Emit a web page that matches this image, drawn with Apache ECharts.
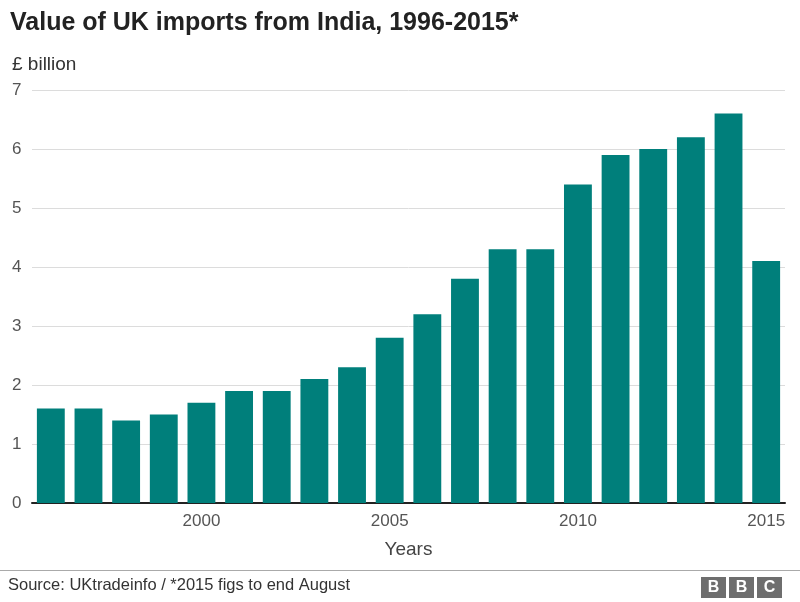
<!DOCTYPE html>
<html>
<head>
<meta charset="utf-8">
<script src="https://cdn.jsdelivr.net/npm/echarts@6/dist/echarts.min.js"></script>
<style>
  html, body { margin: 0; padding: 0; background: #fff; }
  #chart { width: 800px; height: 602px; }
</style>
</head>
<body>
<div id="chart"></div>
<script>
var years = ['1996', '1997', '1998', '1999', '2000', '2001', '2002', '2003', '2004', '2005',
             '2006', '2007', '2008', '2009', '2010', '2011', '2012', '2013', '2014', '2015'];
var imports = [1.6, 1.6, 1.4, 1.5, 1.7, 1.9, 1.9, 2.1, 2.3, 2.8,
               3.2, 3.8, 4.3, 4.3, 5.4, 5.9, 6.0, 6.2, 6.6, 4.1];
var shownYears = ['2000', '2005', '2010', '2015'];

var font = '"Liberation Sans", Arial, Helvetica, sans-serif';
var chart = echarts.init(document.getElementById('chart'));

var option = {
    animation: false,
    title: {
        text: 'Value of UK imports from India, 1996-2015*',
        left: 5,
        top: 6,
        textStyle: {
            fontFamily: font,
            fontSize: 25,
            fontWeight: 'bold',
            color: '#222'
        }
    },
    grid: {
        left: 32,
        right: 15,
        top: 90,
        bottom: 99
    },
    xAxis: {
        type: 'category',
        data: years,
        name: 'Years',
        nameLocation: 'middle',
        nameGap: 37,
        nameTextStyle: { fontFamily: font, fontSize: 19, color: '#444' },
        axisTick: { show: false },
        axisLine: { lineStyle: { color: '#222', width: 2 } },
        axisLabel: {
            interval: 0,
            margin: 10,
            fontFamily: font,
            fontSize: 17,
            color: '#555',
            formatter: function (v) {
                return shownYears.indexOf(v) >= 0 ? v : '';
            }
        }
    },
    yAxis: {
        type: 'value',
        min: 0,
        max: 7,
        interval: 1,
        axisLine: { show: false },
        axisTick: { show: false },
        splitLine: { lineStyle: { color: '#dcdcdc', width: 1 } },
        axisLabel: {
            align: 'left',
            margin: 20,
            fontFamily: font,
            fontSize: 17,
            color: '#555'
        }
    },
    series: [{
        type: 'bar',
        data: imports,
        barCategoryGap: '26%',
        itemStyle: { color: '#007f7b' }
    }],
    graphic: [
        {
            type: 'text',
            left: 12,
            top: 55,
            style: { text: '£ billion', font: '19px ' + font, fill: '#333' }
        },
        {
            type: 'rect',
            shape: { x: 0, y: 570, width: 800, height: 1 },
            style: { fill: '#aaaaaa' }
        },
        {
            type: 'text',
            left: 8,
            top: 577,
            style: { text: 'Source: UKtradeinfo / *2015 figs to end August', font: '16.5px ' + font, fill: '#333' }
        },
        {
            type: 'group',
            left: 701,
            top: 577,
            children: [
                { type: 'rect', shape: { x: 0, y: 0, width: 25, height: 21 }, style: { fill: '#6e6e6e' } },
                { type: 'rect', shape: { x: 28, y: 0, width: 25, height: 21 }, style: { fill: '#6e6e6e' } },
                { type: 'rect', shape: { x: 56, y: 0, width: 25, height: 21 }, style: { fill: '#6e6e6e' } },
                { type: 'text', x: 12.5, y: 11, style: { text: 'B', font: 'bold 16px ' + font, fill: '#fff', align: 'center', verticalAlign: 'middle' } },
                { type: 'text', x: 40.5, y: 11, style: { text: 'B', font: 'bold 16px ' + font, fill: '#fff', align: 'center', verticalAlign: 'middle' } },
                { type: 'text', x: 68.5, y: 11, style: { text: 'C', font: 'bold 16px ' + font, fill: '#fff', align: 'center', verticalAlign: 'middle' } }
            ]
        }
    ]
};

chart.setOption(option, true);

window.onresize = function () {
    chart && chart.resize();
};
</script>
</body>
</html>
